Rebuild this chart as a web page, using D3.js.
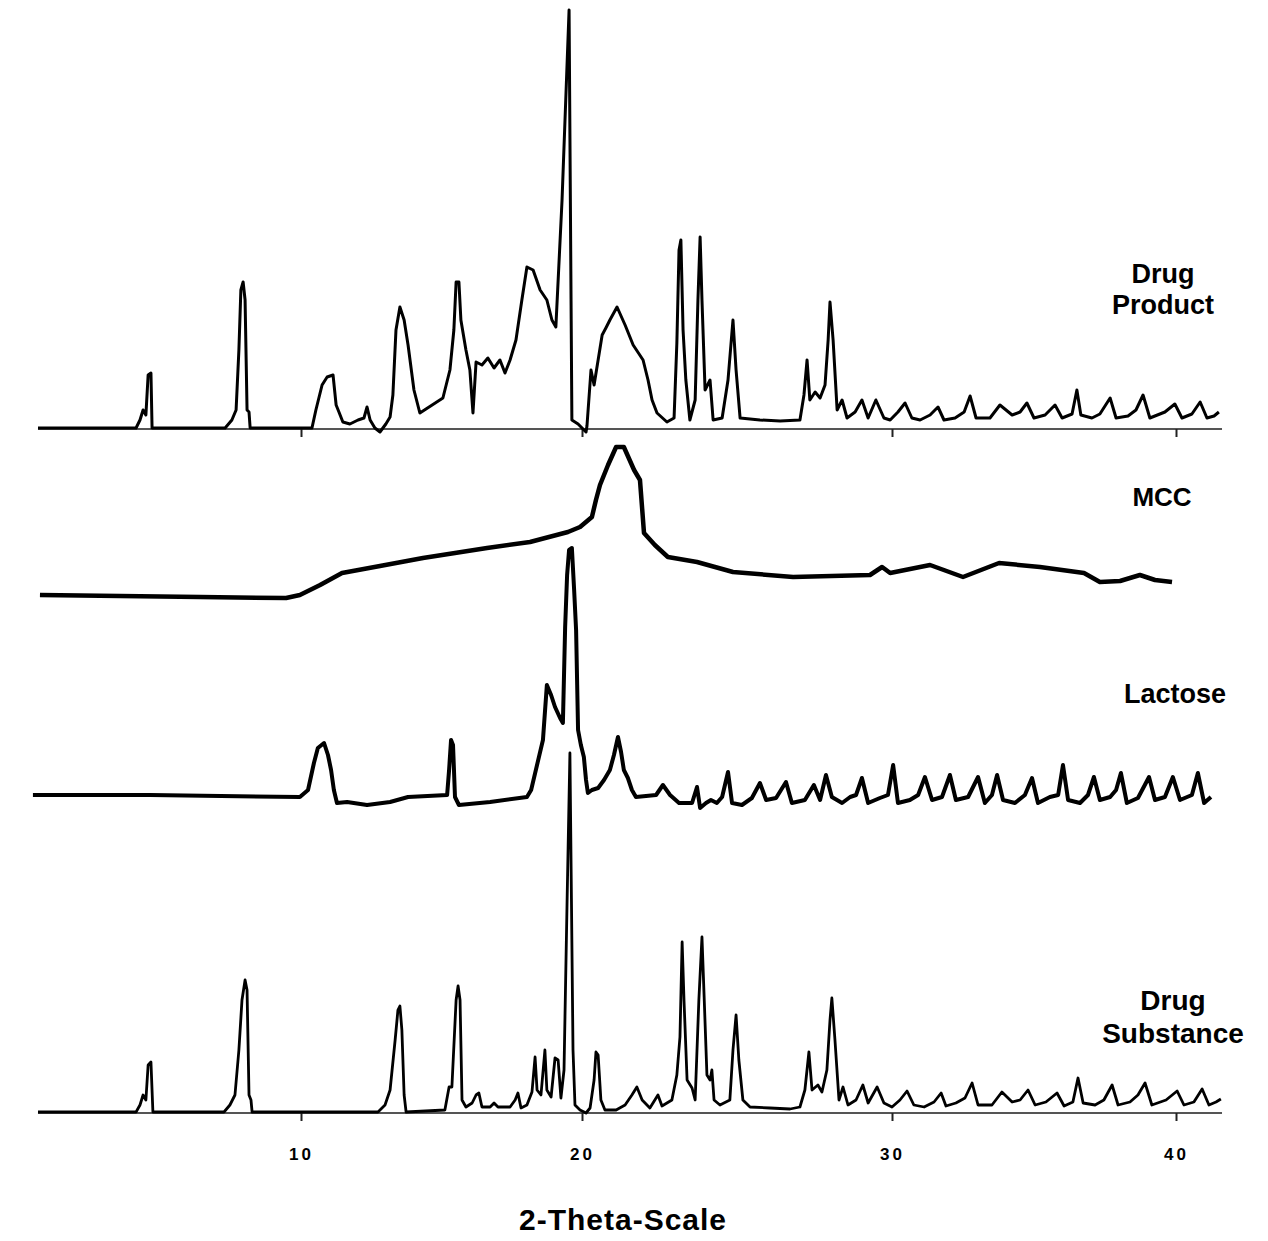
<!DOCTYPE html>
<html>
<head>
<meta charset="utf-8">
<script src="https://cdn.jsdelivr.net/npm/d3@7"></script>
<style>
    body { margin: 0; background: #fff; }
    text { font-family: "Liberation Sans", Arial, sans-serif; font-weight: bold; fill: #000; }
</style>
</head>
<body>
<script>
// 2-theta / relative intensity pairs
var drugProduct = [
    [0.64,0],[4.13,0],[4.27,8],[4.38,18],[4.48,13],[4.56,53],[4.66,55],[4.70,0],
    [7.30,0],[7.54,8],[7.69,18],[7.79,78],[7.86,138],[7.94,146],[8.01,128],[8.08,18],[8.15,16],[8.19,0],
    [10.39,0],[10.53,18],[10.75,43],[10.93,51],[11.14,53],[11.25,23],[11.35,16],[11.49,6],[11.74,4],
    [12.03,8],[12.24,10],[12.35,21],[12.46,8],[12.63,0],[12.81,-4],[13.02,4],[13.17,11],[13.27,33],
    [13.38,98],[13.52,121],[13.67,108],[13.81,83],[14.02,38],[14.23,15],[15.05,30],[15.30,58],
    [15.44,98],[15.52,146],[15.62,146],[15.69,108],[15.87,78],[16.01,58],[16.12,15],[16.23,66],
    [16.44,63],[16.65,70],[16.87,60],[17.08,68],[17.26,55],[17.44,68],[17.65,88],[17.86,128],
    [18.04,161],[18.26,158],[18.51,138],[18.75,128],[18.93,108],[19.07,101],[19.29,228],[19.54,418],
    [19.61,128],[19.64,8],[19.86,4],[20.13,-4],[20.16,2],[20.29,58],[20.39,43],[20.52,68],[20.65,93],
    [20.77,100],[20.90,108],[21.13,121],[21.39,103],[21.65,83],[21.97,68],[22.13,48],[22.26,28],
    [22.42,15],[22.74,6],[22.97,10],[23.06,85],[23.13,178],[23.19,188],[23.26,98],[23.35,48],
    [23.48,8],[23.65,28],[23.74,128],[23.81,191],[23.87,128],[23.97,38],[24.13,48],[24.23,8],
    [24.52,10],[24.71,48],[24.87,108],[24.97,58],[25.10,10],[25.74,8],[26.39,7],[27.03,8],
    [27.16,33],[27.26,68],[27.35,28],[27.52,36],[27.68,30],[27.84,43],[27.94,88],[28.00,126],
    [28.10,88],[28.23,18],[28.39,28],[28.55,10],[28.81,16],[29.03,28],[29.23,10],[29.48,28],
    [29.74,10],[29.94,8],[30.21,16],[30.46,25],[30.70,10],[30.99,8],[31.34,13],[31.62,21],
    [31.83,8],[32.22,10],[32.54,16],[32.75,32],[32.96,10],[33.45,10],[33.80,23],[34.23,13],
    [34.51,16],[34.75,25],[35.00,10],[35.39,13],[35.74,23],[35.99,10],[36.34,14],[36.51,38],
    [36.65,13],[37.04,10],[37.32,14],[37.68,30],[37.89,10],[38.31,12],[38.59,18],[38.84,33],
    [39.08,10],[39.61,16],[39.96,24],[40.21,10],[40.56,14],[40.85,26],[41.09,10],[41.34,12],[41.51,16]
]

var mcc = [
    [0.71,3],[3.56,2],[6.41,1],[9.47,0],[9.96,3],[10.68,13],[11.46,25],[12.81,32],[14.34,40],
    [16.62,50],[18.15,56],[19.50,66],[19.93,71],[20.32,81],[20.45,98],[20.58,113],[20.84,133],
    [21.10,151],[21.35,151],[21.68,128],[21.87,118],[22.00,65],[22.35,53],[22.77,41],[23.71,36],
    [24.87,26],[26.81,21],[29.29,23],[29.68,31],[29.94,25],[31.34,33],[32.50,21],[33.77,35],
    [35.21,31],[36.76,25],[37.32,16],[38.03,17],[38.73,23],[39.26,18],[39.86,16]
]

var lactose = [
    [0.46,10],[4.63,10],[9.96,8],[10.25,15],[10.46,42],[10.60,57],[10.82,62],[10.96,50],[11.07,35],
    [11.17,15],[11.28,2],[11.64,3],[12.35,0],[13.17,3],[13.81,8],[15.20,10],[15.27,35],[15.34,65],
    [15.41,60],[15.48,8],[15.62,0],[16.73,3],[18.04,8],[18.19,15],[18.40,40],[18.61,65],[18.75,120],
    [18.90,110],[19.04,98],[19.22,87],[19.32,82],[19.40,178],[19.47,230],[19.54,255],[19.64,257],
    [19.72,215],[19.79,175],[19.86,75],[19.96,60],[20.06,48],[20.13,25],[20.19,12],[20.32,15],
    [20.52,17],[20.71,25],[20.90,35],[21.03,50],[21.16,68],[21.26,53],[21.35,35],[21.48,27],
    [21.61,15],[21.74,8],[22.39,10],[22.61,20],[22.84,10],[23.13,2],[23.55,2],[23.71,18],[23.81,-3],
    [24.00,2],[24.16,5],[24.35,2],[24.52,8],[24.71,33],[24.84,2],[25.16,0],[25.48,7],[25.74,22],
    [25.94,5],[26.26,7],[26.58,23],[26.77,2],[27.19,5],[27.48,20],[27.68,5],[27.87,30],[28.06,8],
    [28.39,2],[28.65,8],[28.84,10],[29.03,27],[29.23,2],[29.61,7],[29.87,10],[30.04,40],[30.21,2],
    [30.63,5],[30.92,10],[31.16,28],[31.41,5],[31.76,8],[32.04,30],[32.25,5],[32.68,8],[33.03,28],
    [33.27,2],[33.52,10],[33.70,30],[33.91,5],[34.33,2],[34.68,10],[34.93,27],[35.14,2],[35.56,8],
    [35.85,10],[36.02,40],[36.20,5],[36.62,2],[36.90,10],[37.11,28],[37.32,5],[37.68,8],[37.89,15],
    [38.06,32],[38.27,2],[38.66,7],[39.05,28],[39.26,5],[39.61,8],[39.89,28],[40.14,5],[40.56,10],
    [40.77,32],[40.99,2],[41.23,8]
]

var drugSubstance = [
    [0.64,0],[4.13,0],[4.27,7],[4.38,17],[4.48,12],[4.56,47],[4.66,50],[4.73,0],
    [7.26,0],[7.47,7],[7.65,17],[7.79,62],[7.90,112],[8.01,132],[8.08,122],[8.15,17],[8.22,12],[8.26,0],
    [12.74,0],[12.99,7],[13.17,22],[13.35,72],[13.45,102],[13.52,106],[13.59,82],[13.67,17],[13.74,0],
    [15.12,2],[15.27,25],[15.37,25],[15.52,112],[15.59,126],[15.66,112],[15.73,12],[15.87,5],
    [16.09,9],[16.23,17],[16.33,19],[16.44,5],[16.73,5],[16.87,9],[17.01,5],[17.44,5],[17.62,12],
    [17.72,19],[17.83,4],[18.04,7],[18.22,20],[18.33,55],[18.40,22],[18.54,17],[18.68,62],[18.75,22],
    [18.90,15],[19.04,54],[19.15,52],[19.25,14],[19.36,42],[19.47,212],[19.57,359],[19.68,62],
    [19.75,7],[19.93,2],[20.13,-1],[20.26,4],[20.39,32],[20.45,60],[20.52,57],[20.61,12],[20.74,2],
    [21.10,2],[21.39,7],[21.61,17],[21.77,25],[21.94,12],[22.19,4],[22.35,12],[22.45,17],[22.58,6],
    [22.90,12],[23.06,37],[23.16,75],[23.23,170],[23.29,112],[23.39,32],[23.55,24],[23.65,12],
    [23.77,112],[23.87,175],[23.94,115],[24.03,37],[24.13,32],[24.19,42],[24.26,12],[24.45,7],
    [24.77,12],[24.87,62],[24.97,97],[25.06,52],[25.19,12],[25.42,5],[26.06,4],[26.71,3],[27.03,5],
    [27.19,22],[27.32,60],[27.42,22],[27.61,27],[27.74,20],[27.90,42],[28.00,92],[28.06,114],
    [28.16,72],[28.29,12],[28.42,25],[28.58,7],[28.84,12],[29.06,27],[29.23,9],[29.52,25],[29.74,9],
    [30.00,5],[30.28,12],[30.53,21],[30.77,7],[31.13,5],[31.48,10],[31.73,19],[31.90,6],[32.25,9],
    [32.57,14],[32.82,29],[33.03,7],[33.52,7],[33.87,20],[34.23,10],[34.51,12],[34.79,22],[35.04,7],
    [35.42,10],[35.81,19],[36.06,6],[36.37,10],[36.55,34],[36.73,9],[37.15,7],[37.46,12],[37.75,27],
    [37.96,7],[38.38,10],[38.66,17],[38.91,29],[39.15,7],[39.65,12],[40.04,21],[40.28,7],[40.63,10],
    [40.92,23],[41.16,7],[41.41,10],[41.58,13]
]

var tickValues = [10, 20, 30, 40]
var axisExtent = [0.64, 41.62]
var sampleNames = [["Drug", "Product"], ["MCC"], ["Lactose"], ["Drug", "Substance"]]
var xTitle = "2-Theta-Scale"

var width = 1268, height = 1241

var svg = d3.select("body").append("svg")
    .attr("width", width)
    .attr("height", height)

// the scanned figure's 2-theta spacing is not quite even, so use a polylinear scale
var x = d3.scaleLinear()
    .domain([0, 10, 20, 30, 40, 45])
    .range([20, 301, 582, 892, 1176, 1318])

// one panel per sample, each with its own baseline
var panels = [
    {data: drugProduct, base: 428, stroke: 3, name: sampleNames[0], lx: 1163, ly: 283, size: 27, gap: 31, axis: true, labels: false},
    {data: mcc, base: 598, stroke: 4.5, name: sampleNames[1], lx: 1162, ly: 506, size: 26, gap: 0, axis: false},
    {data: lactose, base: 805, stroke: 4, name: sampleNames[2], lx: 1175, ly: 703, size: 27, gap: 0, axis: false},
    {data: drugSubstance, base: 1112, stroke: 2.8, name: sampleNames[3], lx: 1173, ly: 1010, size: 28, gap: 33, axis: true, labels: true}
]

panels.forEach(function(p) {
    var y = d3.scaleLinear().domain([0, 450]).range([p.base, p.base - 450])

    if (p.axis) {
        // baseline of the pattern
        svg.append("line")
            .attr("x1", x(axisExtent[0]))
            .attr("x2", x(axisExtent[1]))
            .attr("y1", y(0) + 1)
            .attr("y2", y(0) + 1)
            .attr("stroke", "#555")
            .attr("stroke-width", 2)

        var axis = d3.axisBottom(x).tickValues(tickValues).tickSize(8).tickPadding(27)
        if (!p.labels) axis.tickFormat("")
        var g = svg.append("g")
            .attr("transform", "translate(0," + (y(0) + 1) + ")")
            .call(axis)
        g.attr("font-size", null).attr("font-family", null)
        g.select(".domain").remove()
        g.selectAll(".tick line").attr("stroke", "#222").attr("stroke-width", 2)
        g.selectAll(".tick text")
            .style("font-size", "17px")
            .style("letter-spacing", "3px")
            .attr("fill", "#000")
    }

    var line = d3.line()
        .x(function(d) { return x(d[0]) })
        .y(function(d) { return y(d[1]) })

    svg.append("path")
        .attr("d", line(p.data))
        .attr("fill", "none")
        .attr("stroke", "#000")
        .attr("stroke-width", p.stroke)
        .attr("stroke-linejoin", "round")

    p.name.forEach(function(t, i) {
        svg.append("text")
            .attr("x", p.lx)
            .attr("y", p.ly + i * p.gap)
            .attr("text-anchor", "middle")
            .style("font-size", p.size + "px")
            .text(t)
    })
})

svg.append("text")
    .attr("x", 623)
    .attr("y", 1230)
    .attr("text-anchor", "middle")
    .style("font-size", "30px")
    .style("letter-spacing", "1px")
    .text(xTitle)
</script>
</body>
</html>
